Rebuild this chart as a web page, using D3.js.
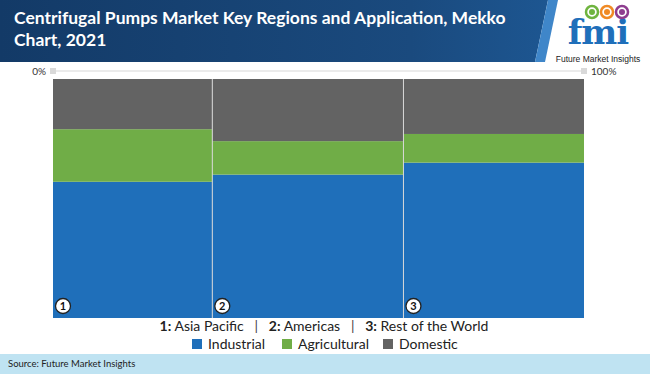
<!DOCTYPE html>
<html>
<head>
<meta charset="utf-8">
<script src="https://cdn.jsdelivr.net/npm/d3@7"></script>
<style>
  body { margin: 0; background: #fff; }
  svg text { font-family: Lato, "Open Sans", sans-serif; }
</style>
</head>
<body>
<div id="chart"></div>
<script>
// Regions (column order) and their share of total width
const regions = ["Asia Pacific", "Americas", "Rest of the World"];
const regionShare = [30, 36, 34];

// Application segments, bottom to top
const segments = ["Industrial", "Agricultural", "Domestic"];
const industrial = [57, 60, 65];
const agricultural = [22, 14, 12];
const domestic = [21, 26, 23];

const axisLabels = ["0%", "100%"];

const colors = { Industrial: "#1f6fba", Agricultural: "#70ad47", Domestic: "#636363" };

const W = 650, H = 374;
const mg = { left: 53, right: 66, top: 79, bottom: 56 };

const svg = d3.select("#chart").append("svg")
  .attr("width", W)
  .attr("height", H);

// Header band
const defs = svg.append("defs");
const grad = defs.append("linearGradient").attr("id", "hdr").attr("x1", 0).attr("x2", 1);
grad.append("stop").attr("offset", "0%").attr("stop-color", "#133a67");
grad.append("stop").attr("offset", "75%").attr("stop-color", "#1a4a7e");
grad.append("stop").attr("offset", "100%").attr("stop-color", "#1d5691");

svg.append("path")
  .attr("d", "M0,0 H548 L535,62 H0 Z")
  .attr("fill", "url(#hdr)");
svg.append("path")
  .attr("d", "M548,0 H558 L545,62 H535 Z")
  .attr("fill", "#3f86c9");

svg.append("text")
  .attr("x", 14).attr("y", 24)
  .attr("fill", "#fff")
  .style("font-size", "17.5px").style("font-weight", "bold")
  .text("Centrifugal Pumps Market Key Regions and Application, Mekko");
svg.append("text")
  .attr("x", 14).attr("y", 46)
  .attr("fill", "#fff")
  .style("font-size", "17.5px").style("font-weight", "bold")
  .text("Chart, 2021");

// Logo
const logo = svg.append("g").attr("transform", "translate(598,0)");
logo.append("text")
  .attr("x", 0).attr("y", 44)
  .attr("text-anchor", "middle")
  .attr("fill", "#1f6fba")
  .style("font-family", "'DejaVu Serif', serif")
  .style("font-size", "34px").style("font-weight", "bold")
  .style("letter-spacing", "-1px")
  .text("fmi");
[["#6fb43f", -6], ["#f08a24", 9], ["#8e3d8f", 24]].forEach(([c, dx]) => {
  logo.append("circle").attr("cx", dx).attr("cy", 12).attr("r", 6)
    .attr("fill", "#fff").attr("stroke", c).attr("stroke-width", 2.5);
  logo.append("circle").attr("cx", dx).attr("cy", 12).attr("r", 3).attr("fill", c);
});
logo.append("text")
  .attr("x", 0).attr("y", 62)
  .attr("text-anchor", "middle")
  .attr("fill", "#222")
  .style("font-family", "'Liberation Sans Narrow', 'Liberation Sans', sans-serif")
  .style("font-size", "8.5px")
  .text("Future Market Insights");

// Scales
const x = d3.scaleLinear()
  .domain([0, d3.sum(regionShare)])
  .range([mg.left, W - mg.right]);
const y = d3.scaleLinear()
  .domain([0, 100])
  .range([H - mg.bottom, mg.top]);

// Top 0-100% axis
const axisY = 71;
svg.append("line")
  .attr("x1", x(0)).attr("x2", x(100))
  .attr("y1", axisY).attr("y2", axisY)
  .attr("stroke", "#e4e4e4").attr("stroke-width", 1.5);
[0, 100].forEach((v) => {
  svg.append("rect")
    .attr("x", x(v) - 3).attr("y", axisY - 3)
    .attr("width", 6).attr("height", 6)
    .attr("fill", "#d9d9d9");
});
svg.append("text")
  .attr("x", x(0) - 7).attr("y", axisY + 3.5)
  .attr("text-anchor", "end")
  .attr("fill", "#333").style("font-size", "10px")
  .text(axisLabels[0]);
svg.append("text")
  .attr("x", x(100) + 7).attr("y", axisY + 3.5)
  .attr("fill", "#333").style("font-size", "10px")
  .text(axisLabels[1]);

// Build column data
const vals = { Industrial: industrial, Agricultural: agricultural, Domestic: domestic };
const cum = d3.cumsum(regionShare);
const cols = regions.map((r, i) => {
  let acc = 0;
  const segs = segments.map((s) => {
    const d = { key: s, y0: acc, y1: acc + vals[s][i] };
    acc += vals[s][i];
    return d;
  });
  return { region: r, idx: i, x0: cum[i] - regionShare[i], x1: cum[i], segs };
});

const col = svg.selectAll(".col")
  .data(cols)
  .join("g")
  .attr("class", "col");

col.selectAll("rect")
  .data((d) => d.segs.map((s) => ({ ...s, x0: d.x0, x1: d.x1 })))
  .join("rect")
  .attr("x", (d) => x(d.x0))
  .attr("width", (d) => x(d.x1) - x(d.x0))
  .attr("y", (d) => y(d.y1))
  .attr("height", (d) => y(d.y0) - y(d.y1))
  .attr("fill", (d) => colors[d.key]);

// Column separators
svg.selectAll(".sep")
  .data(cols.slice(1))
  .join("line")
  .attr("class", "sep")
  .attr("x1", (d) => x(d.x0)).attr("x2", (d) => x(d.x0))
  .attr("y1", y(100)).attr("y2", y(0))
  .attr("stroke", "#d8d8d8").attr("stroke-width", 1);

// Numbered markers
const badge = svg.selectAll(".badge")
  .data(cols)
  .join("g")
  .attr("class", "badge")
  .attr("transform", (d) => `translate(${x(d.x0) + 10},${y(0) - 12})`);
badge.append("circle")
  .attr("r", 7.5)
  .attr("fill", "#fff")
  .attr("stroke", "#222").attr("stroke-width", 1.3);
badge.append("text")
  .attr("text-anchor", "middle")
  .attr("y", 4)
  .attr("fill", "#111")
  .style("font-size", "11px").style("font-weight", "bold")
  .text((d) => d.idx + 1);

// Region legend
const cx = 324;
const leg1 = svg.append("text")
  .attr("x", cx).attr("y", 331)
  .attr("text-anchor", "middle")
  .attr("fill", "#222")
  .style("font-size", "14px")
  .style("white-space", "pre");
regions.forEach((r, i) => {
  if (i > 0) leg1.append("tspan").attr("fill", "#444").text("   |   ");
  leg1.append("tspan").style("font-weight", "bold").text(`${i + 1}:`);
  leg1.append("tspan").text(` ${r}`);
});

// Segment legend
const legItems = [
  { key: "Industrial", x: 192 },
  { key: "Agricultural", x: 282 },
  { key: "Domestic", x: 383 }
];
const leg2 = svg.selectAll(".leg2")
  .data(legItems)
  .join("g")
  .attr("class", "leg2")
  .attr("transform", (d) => `translate(${d.x},344)`);
leg2.append("rect")
  .attr("x", 0).attr("y", -5)
  .attr("width", 10).attr("height", 10)
  .attr("fill", (d) => colors[d.key]);
leg2.append("text")
  .attr("x", 16).attr("y", 5)
  .attr("fill", "#222")
  .style("font-size", "14px")
  .text((d) => d.key);

// Footer
svg.append("rect")
  .attr("x", 0).attr("y", 354)
  .attr("width", W).attr("height", 20)
  .attr("fill", "#bfe3f2");
svg.append("text")
  .attr("x", 8).attr("y", 367)
  .attr("fill", "#222")
  .style("font-size", "9.5px")
  .text("Source: Future Market Insights");
</script>
</body>
</html>
